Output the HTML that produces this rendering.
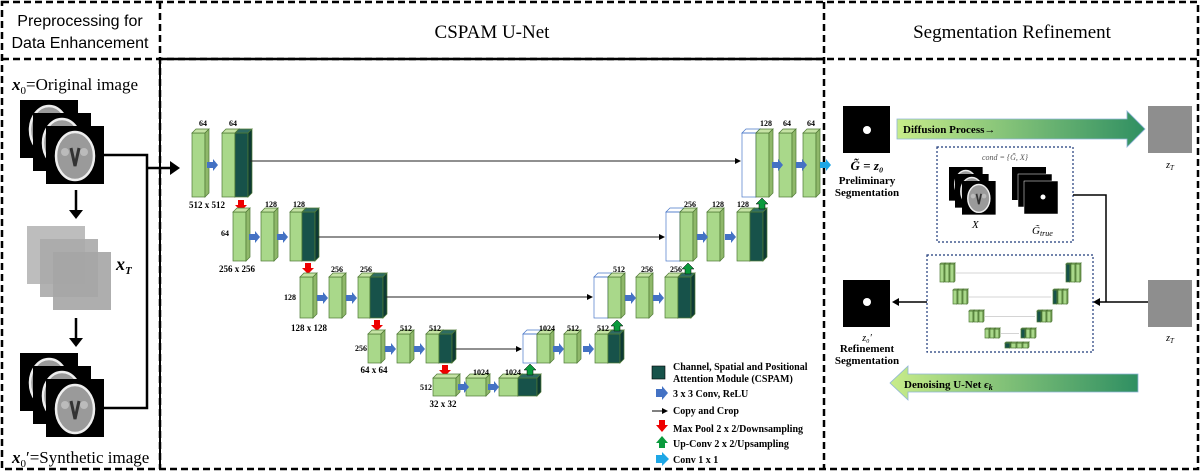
<!DOCTYPE html>
<html><head><meta charset="utf-8">
<style>
html,body{margin:0;padding:0;background:#fff;}
svg{display:block;font-family:"Liberation Serif",serif;}
.b{font-weight:bold;}
</style></head>
<body>
<svg id="fig" width="1200" height="471" viewBox="0 0 1200 471">
<defs>
  <linearGradient id="gdiff" x1="0" x2="1" y1="0" y2="0">
    <stop offset="0" stop-color="#c8ec8a"/><stop offset="1" stop-color="#2f8f62"/>
  </linearGradient>
  <linearGradient id="gden" x1="1" x2="0" y1="0" y2="0">
    <stop offset="0" stop-color="#2f8f62"/><stop offset="1" stop-color="#c8ec8a"/>
  </linearGradient>
  <marker id="ah" markerWidth="6" markerHeight="6" refX="5" refY="3" orient="auto"><path d="M0,0 L6,3 L0,6 z" fill="#000"/></marker>
  <g id="ct">
    <rect x="0" y="0" width="58" height="58" fill="#000"/>
    <ellipse cx="29" cy="30" rx="19" ry="24" fill="#9a9a9a" stroke="#eee" stroke-width="2.5"/>
    <path d="M25,22 L29,40 L33,22" stroke="#333" stroke-width="3" fill="none"/>
    <circle cx="19" cy="26" r="4" fill="#bbb"/><circle cx="38" cy="26" r="4" fill="#bbb"/>
  </g>
</defs>

<g fill="none" stroke="#000" stroke-width="2.5" stroke-dasharray="7,4">
  <rect x="2" y="2" width="1196" height="467"/>
  <line x1="160" y1="2" x2="160" y2="469"/>
  <line x1="824" y1="2" x2="824" y2="469"/>
  <line x1="2" y1="59" x2="1198" y2="59"/>
</g>
<line x1="160" y1="59" x2="824" y2="59" stroke="#000" stroke-width="2.5"/>
<line x1="160" y1="59" x2="160" y2="469" stroke="#000" stroke-width="2"/>

<text x="80" y="26" font-size="16" text-anchor="middle" font-family="Liberation Sans, sans-serif">Preprocessing for</text>
<text x="80" y="48" font-size="16" text-anchor="middle" font-family="Liberation Sans, sans-serif">Data Enhancement</text>
<text x="492" y="38" font-size="19" text-anchor="middle">CSPAM U-Net</text>
<text x="1012" y="38" font-size="19" text-anchor="middle">Segmentation Refinement</text>

<g>
  <text x="12" y="90" font-size="17"><tspan font-style="italic" font-weight="bold">x</tspan><tspan font-size="11" dy="4">0</tspan><tspan dy="-4">=Original image</tspan></text>
  <g>
    <use href="#ct" x="20" y="100"/><use href="#ct" x="33" y="113"/><use href="#ct" x="46" y="126"/>
  </g>
  <line x1="76" y1="190" x2="76" y2="212" stroke="#000" stroke-width="2.5"/>
  <path d="M69,210 L83,210 L76,219 z" fill="#000"/>
  <g>
    <rect x="27" y="226" width="58" height="58" fill="#bdbdbd"/>
    <rect x="40" y="239" width="58" height="58" fill="#aaa" opacity="0.9"/>
    <rect x="53" y="252" width="58" height="58" fill="#a5a5a5" opacity="0.9"/>
  </g>
  <text x="116" y="270" font-size="18" font-style="italic" font-weight="bold">x<tspan font-size="11" dy="4">T</tspan></text>
  <line x1="76" y1="318" x2="76" y2="340" stroke="#000" stroke-width="2.5"/>
  <path d="M69,338 L83,338 L76,347 z" fill="#000"/>
  <g>
    <use href="#ct" x="20" y="353"/><use href="#ct" x="33" y="366"/><use href="#ct" x="46" y="379"/>
  </g>
  <text x="12" y="463" font-size="17"><tspan font-style="italic" font-weight="bold">x</tspan><tspan font-size="11" dy="4">0</tspan><tspan dy="-4">′=Synthetic image</tspan></text>
  <polyline points="104,155 147,155 147,408 104,408" fill="none" stroke="#000" stroke-width="2.5"/>
  <line x1="147" y1="168" x2="172" y2="168" stroke="#000" stroke-width="2.5"/>
  <path d="M170,161 L180,168 L170,175 z" fill="#000"/>
</g>

<g id="unet"></g>

<g font-size="10" font-weight="bold">
  <g>
    <rect x="652" y="366" width="13" height="13" fill="#17524a" stroke="#000" stroke-width="0.6"/>
    <text x="673" y="370">Channel, Spatial and Positional</text>
    <text x="673" y="382">Attention Module (CSPAM)</text>
  </g>
  <g>
    <path d="M656,389 L662,389 L662,386 L668,393 L662,400 L662,397 L656,397 z" fill="#4472c4"/>
    <text x="673" y="397">3 x 3 Conv, ReLU</text>
  </g>
  <g>
    <line x1="652" y1="411" x2="667" y2="411" stroke="#000" stroke-width="1" marker-end="url(#ah)"/>
    <text x="673" y="414">Copy and Crop</text>
  </g>
  <g>
    <path d="M659,420 L665,420 L665,425 L668,425 L662,432 L656,425 L659,425 z" fill="#e00"/>
    <text x="673" y="432">Max Pool 2 x 2/Downsampling</text>
  </g>
  <g>
    <path d="M662,436 L668,443 L665,443 L665,448 L659,448 L659,443 L656,443 z" fill="#0a9a3c"/>
    <text x="673" y="447">Up-Conv 2 x 2/Upsampling</text>
  </g>
  <g>
    <path d="M656,455 L662,455 L662,452 L669,459 L662,466 L662,463 L656,463 z" fill="#1ea7e6"/>
    <text x="673" y="463">Conv 1 x 1</text>
  </g>
</g>

<g>
  <rect x="843" y="106" width="47" height="47" fill="#000"/>
  <circle cx="867" cy="130" r="4" fill="#fff"/>
  <text x="867" y="170" font-size="13" text-anchor="middle" font-style="italic" font-weight="bold">G̃ = z₀</text>
  <text x="867" y="184" font-size="11" text-anchor="middle" class="b">Preliminary</text>
  <text x="867" y="196" font-size="11" text-anchor="middle" class="b">Segmentation</text>
  <path d="M897,119 L1127,119 L1127,111 L1145,129 L1127,147 L1127,139 L897,139 z" fill="url(#gdiff)" stroke="#8fb5d8" stroke-width="0.8"/>
  <text x="903" y="133" font-size="11" class="b">Diffusion Process→</text>
  <rect x="1148" y="106" width="44" height="47" fill="#8e8e8e"/>
  <text x="1170" y="168" font-size="10" text-anchor="middle" font-style="italic">z<tspan font-size="7" dy="2">T</tspan></text>

  <rect x="937" y="147" width="136" height="95" fill="none" stroke="#1f3a7a" stroke-width="1.2" stroke-dasharray="2,2"/>
  <text x="1005" y="160" font-size="8" text-anchor="middle" font-style="italic" fill="#555">cond = {G̃, X}</text>
  <use href="#ct" transform="translate(949,167) scale(0.58)"/>
  <use href="#ct" transform="translate(955,174) scale(0.58)"/>
  <use href="#ct" transform="translate(962,181) scale(0.58)"/>
  <text x="972" y="228" font-size="11" font-style="italic">X</text>
  <rect x="1012" y="167" width="34" height="33" fill="#000"/>
  <rect x="1018" y="174" width="34" height="33" fill="#000" stroke="#fff" stroke-width="0.5"/>
  <rect x="1024" y="181" width="34" height="33" fill="#000" stroke="#fff" stroke-width="0.5"/>
  <circle cx="1043" cy="197" r="2.5" fill="#fff"/>
  <text x="1032" y="234" font-size="11" font-style="italic">G̃<tspan font-size="8" dy="2">true</tspan></text>
  <polyline points="1073,195 1106,195 1106,302" fill="none" stroke="#000" stroke-width="1.5"/>

  <rect x="927" y="255" width="166" height="97" fill="none" stroke="#1f3a7a" stroke-width="1.2" stroke-dasharray="2,2"/>
  <g id="miniunet"></g>

  <line x1="1148" y1="302" x2="1097" y2="302" stroke="#000" stroke-width="1.5"/>
  <path d="M1100,298 L1093,302 L1100,306 z" fill="#000"/>
  <line x1="927" y1="302" x2="896" y2="302" stroke="#000" stroke-width="1.5"/>
  <path d="M899,298 L892,302 L899,306 z" fill="#000"/>
  <rect x="843" y="280" width="47" height="47" fill="#000"/>
  <circle cx="867" cy="302" r="4" fill="#fff"/>
  <text x="867" y="341" font-size="10" text-anchor="middle" font-style="italic">z₀′</text>
  <text x="867" y="352" font-size="11" text-anchor="middle" class="b">Refinement</text>
  <text x="867" y="364" font-size="11" text-anchor="middle" class="b">Segmentation</text>
  <rect x="1148" y="280" width="44" height="47" fill="#8e8e8e"/>
  <text x="1170" y="341" font-size="10" text-anchor="middle" font-style="italic">z<tspan font-size="7" dy="2">T</tspan></text>
  <path d="M1138,374 L908,374 L908,366 L890,383 L908,400 L908,392 L1138,392 z" fill="url(#gden)" stroke="#8fb5d8" stroke-width="0.8"/>
  <text x="904" y="388" font-size="11" class="b">Denoising U-Net  <tspan font-style="italic">ϵ</tspan><tspan font-size="8" dy="2" font-style="italic">k</tspan></text>
</g>

<script>
const NS='http://www.w3.org/2000/svg';
const U=document.getElementById('unet');
function mk(tag,attrs,parent){const e=document.createElementNS(NS,tag);for(const k in attrs)e.setAttribute(k,attrs[k]);(parent||U).appendChild(e);return e;}
function box(x,y,w,h,fill,parent,name,d){
  d=d||4;
  const g=mk('g',{},parent);
  
  
  const top=fill==='none'?'none':(fill==='#17524a'?'#2e6b62':'#c5e3a4');
  const side=fill==='none'?'none':(fill==='#17524a'?'#0d3a34':'#8fb86a');
  const st=fill==='none'?'#4a78c8':'#4f7a35';
  mk('rect',{x:x,y:y,width:w,height:h,fill:fill==='none'?'#fff':fill,stroke:st,'stroke-width':0.7},g);
  mk('path',{d:`M${x},${y} L${x+d},${y-d} L${x+w+d},${y-d} L${x+w},${y} z`,fill:top,stroke:st,'stroke-width':0.7},g);
  mk('path',{d:`M${x+w},${y} L${x+w+d},${y-d} L${x+w+d},${y+h-d} L${x+w},${y+h} z`,fill:side,stroke:st,'stroke-width':0.7},g);
}
function txt(x,y,s,size,anchor){const t=mk('text',{x:x,y:y,'font-size':size||8,'font-weight':'bold','text-anchor':anchor||'middle'});t.textContent=s;return t;}
function conv(x,y,color){mk('path',{d:`M${x},${y-3} L${x+6},${y-3} L${x+6},${y-6} L${x+11},${y} L${x+6},${y+6} L${x+6},${y+3} L${x},${y+3} z`,fill:color||'#4472c4'});}
function down(x,y){mk('path',{d:`M${x-3},${y} L${x+3},${y} L${x+3},${y+5} L${x+6},${y+5} L${x},${y+11} L${x-6},${y+5} L${x-3},${y+5} z`,fill:'#e00'});}
function up(x,y){mk('path',{d:`M${x},${y} L${x+6},${y+6} L${x+3},${y+6} L${x+3},${y+11} L${x-3},${y+11} L${x-3},${y+6} L${x-6},${y+6} z`,fill:'#0a9a3c',stroke:'#000','stroke-width':0.5});}

const G='#a9d88a', D='#17524a';
box(192,133,13,64,G); box(222,133,13,64,G); box(235,133,13,64,D,null,'cspam-block');
txt(203,126,'64'); txt(233,126,'64'); txt(207,208,'512 x 512',9);
conv(207,165); down(241,200);
box(233,212,13,49,G); box(261,212,13,49,G); box(290,212,12,49,G); box(302,212,13,49,D,null,'cspam-block');
txt(225,236,'64'); txt(271,207,'128'); txt(299,207,'128'); txt(237,272,'256 x 256',9);
conv(249,237); conv(277,237); down(308,263);
box(300,277,13,41,G); box(329,277,13,41,G); box(358,277,12,41,G); box(370,277,13,41,D,null,'cspam-block');
txt(290,300,'128'); txt(337,272,'256'); txt(366,272,'256'); txt(309,331,'128 x 128',9);
conv(317,298); conv(346,298); down(377,320);
box(368,334,13,29,G); box(397,334,13,29,G); box(426,334,13,29,G); box(439,334,13,29,D,null,'cspam-block');
txt(361,351,'256'); txt(406,331,'512'); txt(435,331,'512'); txt(374,373,'64 x 64',9);
conv(385,349); conv(414,349); down(445,365);
box(433,378,23,18,G); box(466,378,20,18,G); box(499,378,19,18,G); box(518,378,19,18,D,null,'cspam-block');
txt(426,390,'512'); txt(481,375,'1024'); txt(513,375,'1024'); txt(443,407,'32 x 32',9);
conv(458,387); conv(488,387); up(530,364);
box(523,334,14,29,'none'); box(537,334,13,29,G); box(564,334,13,29,G); box(595,334,13,29,G); box(608,334,12,29,D,null,'cspam-block');
txt(547,331,'1024'); txt(573,331,'512'); txt(603,331,'512');
conv(553,349); conv(583,349); up(617,320);
box(594,277,14,41,'none'); box(608,277,13,41,G); box(636,277,13,41,G); box(665,277,13,41,G); box(678,277,13,41,D,null,'cspam-block');
txt(619,272,'512'); txt(647,272,'256'); txt(676,272,'256');
conv(625,298); conv(653,298); up(688,263);
box(666,212,14,49,'none'); box(680,212,13,49,G); box(707,212,13,49,G); box(737,212,13,49,G); box(750,212,13,49,D,null,'cspam-block');
txt(690,207,'256'); txt(718,207,'128'); txt(743,207,'128');
conv(697,237); conv(725,237); up(762,198);
box(742,133,14,64,'none'); box(756,133,13,64,G); box(779,133,13,64,G); box(803,133,13,64,G);
txt(766,126,'128'); txt(787,126,'64'); txt(811,126,'64');
conv(772,165); conv(796,165); conv(820,165,'#1ea7e6');
[[250,161,740],[318,237,664],[386,297,592],[455,349,521]].forEach(s=>{
  const l=mk('line',{x1:s[0],y1:s[1],x2:s[2],y2:s[1],stroke:'#222','stroke-width':1,'marker-end':'url(#ah)'});
  
  
});

const M=document.getElementById('miniunet');
const mini=[[940,264,18],[953,290,14],[969,311,11],[985,329,9]];
mini.forEach((m)=>{
  for(let k=0;k<3;k++) box(m[0]+k*5,m[1],4,m[2],k===0?G:(k===1?G:G),M,'mini-block',1);
  const rx=2020-m[0]-14;
  for(let k=0;k<3;k++) box(rx+k*5,m[1],4,m[2],k===0?D:G,M,'mini-block',1);
  mk('line',{x1:m[0]+16,y1:m[1]+m[2]/2,x2:rx-2,y2:m[1]+m[2]/2,stroke:'#aaa','stroke-width':0.6},M);
});
for(let k=0;k<4;k++) box(1005+k*6,343,5,5,k===0?D:G,M,'mini-block',1);
</script>
</svg>
</body></html>
